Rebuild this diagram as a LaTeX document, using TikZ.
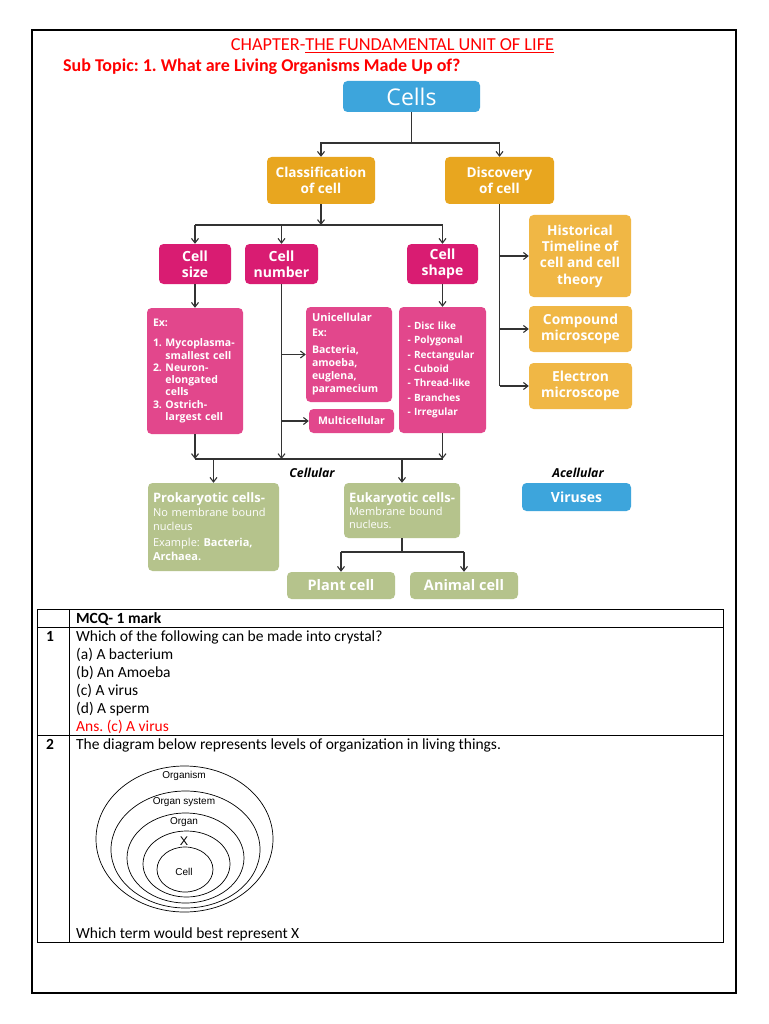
\documentclass[tikz,border=0pt]{standalone}
\usepackage{fontspec}
\setmainfont{Carlito}
\newfontfamily\chart{Open Sans}
\newfontfamily\arial{Liberation Sans}
\usetikzlibrary{arrows.meta,calc}
\definecolor{cblue}{HTML}{3DA5DC}
\definecolor{corange}{HTML}{E8A61F}
\definecolor{clorange}{HTML}{F0B745}
\definecolor{cmag}{HTML}{D91C72}
\definecolor{cpink}{HTML}{E2478C}
\definecolor{cgreen}{HTML}{B5C38C}
\definecolor{cline}{HTML}{333333}
\definecolor{cred}{HTML}{FF0000}
\tikzset{
  box/.style={rounded corners=4.5pt, inner sep=0pt, text=white, draw=none},
  ln/.style={draw=cline, line width=1.1pt},
  arr/.style={ln, -{Straight Barb[length=4.5pt,width=7pt]}},
  doc/.style={anchor=base west, inner sep=0pt, font=\fontsize{15.5}{18}\selectfont},
  lab/.style={inner sep=0pt, font=\arial\fontsize{10}{12}\selectfont},
  ell/.style={line width=0.7pt},
}
\begin{document}
\frenchspacing
\begin{tikzpicture}[x=1pt,y=-1pt]
\useasboundingbox (0,0) rectangle (768,1024);
\fill[white] (0,0) rectangle (768,1024);
\draw[line width=2pt] (32,30) rectangle (736,993);

% titles
\node[anchor=base, inner sep=0pt, text=cred, font=\fontsize{18.3}{22}\selectfont] (title) at (392.5,51) {CHAPTER-\underline{THE FUNDAMENTAL UNIT OF LIFE}};
\node[anchor=base west, inner sep=0pt, text=cred, font=\bfseries\fontsize{18}{22}\selectfont] (subtitle) at (63,72) {Sub Topic: 1. What are Living Organisms Made Up of?};

% chart boxes
\node[box, fill=cblue, minimum width=137, minimum height=31, font=\chart\fontsize{23}{26}\selectfont] (cells) at (411.5,96.5) {Cells};
\node[box, fill=corange, minimum width=108, minimum height=47, align=center, font=\chart\bfseries\fontsize{13.6}{16}\selectfont] (class) at (321,180.5) {Classification\\of cell};
\node[box, fill=corange, minimum width=109, minimum height=47, align=center, font=\chart\bfseries\fontsize{13.6}{16}\selectfont] (disc) at (499.5,180.5) {Discovery\\of cell};

\node[box, fill=cmag, minimum width=72, minimum height=40, align=center, font=\chart\bfseries\fontsize{14}{16}\selectfont] (size) at (195,264) {Cell\\size};
\node[box, fill=cmag, minimum width=73, minimum height=40, align=center, font=\chart\bfseries\fontsize{14}{16}\selectfont] (number) at (281.5,264) {Cell\\number};
\node[box, fill=cmag, minimum width=71, minimum height=40, align=center, font=\chart\bfseries\fontsize{14}{16}\selectfont] (shape) at (442.5,264) {Cell\\shape};

\node[box, fill=cpink, minimum width=96, minimum height=126, text width=84, align=left, font=\chart\bfseries\fontsize{10.5}{12.3}\selectfont] (exbox) at (195,371)
 {Ex:\\[8pt]1. Mycoplasma-\\\phantom{1. }smallest cell\\2. Neuron-\\\phantom{2. }elongated\\\phantom{2. }cells\\3. Ostrich-\\\phantom{3. }largest cell};
\node[box, fill=cpink, minimum width=86, minimum height=95, text width=74, align=left, font=\chart\bfseries\fontsize{10.5}{13}\selectfont] (uni) at (349,354.5)
 {{\fontsize{11}{13}\selectfont Unicellular}\\[2pt]Ex:\\[4pt]Bacteria,\\amoeba,\\euglena,\\paramecium};
\node[box, fill=cpink, minimum width=85, minimum height=24, font=\chart\bfseries\fontsize{10.5}{12}\selectfont] (multi) at (351.5,421) {Multicellular};
\node[box, fill=cpink, minimum width=87, minimum height=126, text width=70, align=left, font=\chart\bfseries\fontsize{10}{14.3}\selectfont] (shapelist) at (442.5,370)
 {- Disc like\\- Polygonal\\- Rectangular\\- Cuboid\\- Thread-like\\- Branches\\- Irregular};

\node[box, fill=clorange, minimum width=102, minimum height=82, align=center, font=\chart\bfseries\fontsize{13.7}{16.3}\selectfont] (hist) at (580,256) {Historical\\Timeline of\\cell and cell\\theory};
\node[box, fill=clorange, minimum width=103, minimum height=46, align=center, font=\chart\bfseries\fontsize{13.8}{16.5}\selectfont] (comp) at (580.5,329) {Compound\\microscope};
\node[box, fill=clorange, minimum width=103, minimum height=46, align=center, font=\chart\bfseries\fontsize{13.8}{16.5}\selectfont] (elec) at (580.5,386) {Electron\\microscope};

\node[box, fill=cgreen, minimum width=131, minimum height=88, text width=121, align=left, font=\chart\fontsize{11}{14}\selectfont] (prok) at (213.5,527)
 {{\bfseries\fontsize{13}{15}\selectfont Prokaryotic cells-}\\No membrane bound\\nucleus\\[2pt]Example: \textbf{Bacteria,}\\\textbf{Archaea.}};
\node[box, fill=cgreen, minimum width=116, minimum height=55, text width=106, align=left, font=\chart\fontsize{11}{12.5}\selectfont] (euk) at (402,510.5)
 {{\bfseries\fontsize{13}{15}\selectfont Eukaryotic cells-}\\[1pt]Membrane bound\\nucleus.};
\node[box, fill=cblue, minimum width=109, minimum height=28, font=\chart\bfseries\fontsize{14}{16}\selectfont] (vir) at (576.5,497) {Viruses};
\node[box, fill=cgreen, minimum width=108, minimum height=27, font=\chart\bfseries\fontsize{14.5}{16}\selectfont] (plant) at (341,585.5) {Plant cell};
\node[box, fill=cgreen, minimum width=108, minimum height=27, font=\chart\bfseries\fontsize{14.5}{16}\selectfont] (animal) at (464,585.5) {Animal cell};

\node[inner sep=0pt, text=black, font=\chart\bfseries\itshape\fontsize{12.3}{14}\selectfont] (cellular) at (312,473) {Cellular};
\node[inner sep=0pt, text=black, font=\chart\bfseries\itshape\fontsize{12.3}{14}\selectfont] (acellular) at (578,473) {Acellular};

% junction levels
\coordinate (j1) at (0,143);
\coordinate (j2) at (0,225);
\coordinate (j3) at (0,459);
\coordinate (j4) at (0,552);

% connectors
\draw[arr] (cells.south) |- (class.north |- j1) -- (class.north);
\draw[arr] (cells.south) |- (disc.north |- j1) -- (disc.north);

\draw[arr] (class.south) -- (class.south |- j2);
\draw[ln] (size.north |- j2) -- (shape.north |- j2);
\draw[arr] (size.north |- j2) -- (size.north);
\draw[arr] (number.north |- j2) -- (number.north);
\draw[arr] (shape.north |- j2) -- (shape.north);

\draw[ln] (disc.south) -- (disc.south |- elec.west);
\draw[arr] (disc.south |- hist.west) -- (hist.west);
\draw[arr] (disc.south |- comp.west) -- (comp.west);
\draw[arr] (disc.south |- elec.west) -- (elec.west);

\draw[arr] (size.south) -- (exbox.north);
\draw[arr] (shape.south) -- (shapelist.north);
\draw[arr] (number.south) -- (number.south |- j3);
\draw[arr] (number.south |- uni.west) -- (uni.west);
\draw[arr] (number.south |- multi.west) -- (multi.west);
\draw[arr] (exbox.south) -- (exbox.south |- j3);
\draw[arr] (shapelist.south) -- (shapelist.south |- j3);
\draw[ln] (exbox.south |- j3) -- (shapelist.south |- j3);
\draw[arr] (prok.north |- j3) -- (prok.north);
\draw[arr] (euk.north |- j3) -- (euk.north);

\draw[ln] (euk.south) -- (euk.south |- j4);
\draw[ln] (plant.north |- j4) -- (animal.north |- j4);
\draw[arr] (plant.north |- j4) -- (plant.north);
\draw[arr] (animal.north |- j4) -- (animal.north);

% table
\draw[line width=1pt] (37,609) rectangle (723,942);
\draw[line width=0.8pt] (37,627) -- (723,627);
\draw[line width=0.8pt] (37,735) -- (723,735);
\draw[line width=0.8pt] (69,609) -- (69,942);

\node[doc, font=\bfseries\fontsize{15.5}{18}\selectfont] (mcq) at (76,623) {MCQ- 1 mark};
\node[doc, anchor=base, font=\bfseries\fontsize{15.5}{18}\selectfont] (n1) at (50,641) {1};
\node[doc] (q1) at (76,641) {Which of the following can be made into crystal?};
\node[doc] (q1a) at (76,659) {(a) A bacterium};
\node[doc] (q1b) at (76,677) {(b) An Amoeba};
\node[doc] (q1c) at (76,695) {(c) A virus};
\node[doc] (q1d) at (76,713) {(d) A sperm};
\node[doc, text=cred] (q1ans) at (76,731) {Ans. (c) A virus};
\node[doc, anchor=base, font=\bfseries\fontsize{15.5}{18}\selectfont] (n2) at (50,749) {2};
\node[doc] (q2) at (76,749) {The diagram below represents levels of organization in living things.};
\node[doc] (q2b) at (76,938) {Which term would best represent X};

% nested ellipses
\draw[ell] (184.5,839) ellipse [x radius=88.5, y radius=73];
\draw[ell] (185.5,849.5) ellipse [x radius=74.5, y radius=58.5];
\draw[ell] (185.5,858) ellipse [x radius=58.5, y radius=45];
\draw[ell] (186.5,864) ellipse [x radius=43.5, y radius=33];
\draw[ell] (185,869.5) ellipse [x radius=28, y radius=22.5];
\node[lab] (lorg) at (184,776) {Organism};
\node[lab] (lsys) at (184,802) {Organ system};
\node[lab] (lorgan) at (184,822) {Organ};
\node[lab, font=\arial\fontsize{12.5}{15}\selectfont] (lx) at (184,841) {X};
\node[lab] (lcell) at (184,872) {Cell};
\end{tikzpicture}
\end{document}
